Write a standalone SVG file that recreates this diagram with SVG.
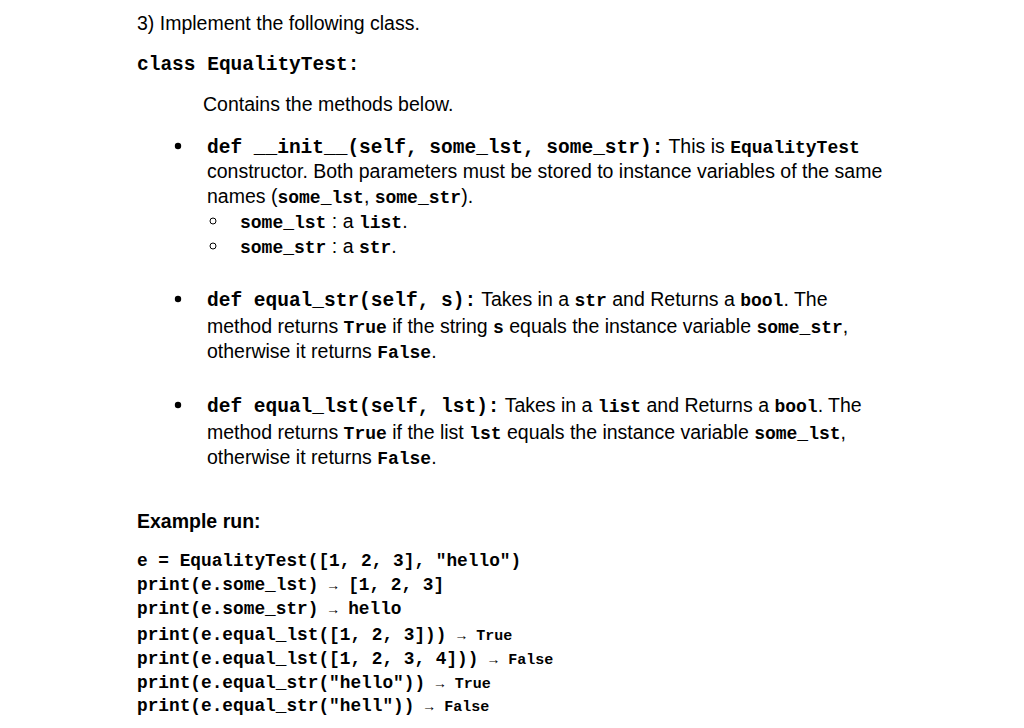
<svg xmlns="http://www.w3.org/2000/svg" width="1024" height="728" viewBox="0 0 1024 728">
<style>
text{font-family:"Liberation Sans",Arial,sans-serif;font-size:19.5px;fill:#000}
.m{font-family:"Liberation Mono","Courier New",monospace;font-weight:bold;font-size:19.5px}
.i{font-family:"Liberation Mono","Courier New",monospace;font-weight:bold;font-size:18px}
.c{font-family:"Liberation Mono","Courier New",monospace;font-weight:bold;font-size:17.8px}
.a{font-size:14px}
.b{font-weight:bold}
</style>
<rect width="1024" height="728" fill="#fff"/>
<g id="header">
<text x="137" y="30">3) Implement the following class.</text>
<text x="137" y="70" class="m">class EqualityTest:</text>
<text x="203" y="111">Contains the methods below.</text>
</g>
<g id="bullets">
<circle cx="178" cy="146" r="3.2"/>
<circle cx="178" cy="299" r="3.2"/>
<circle cx="178" cy="405" r="3.2"/>
<circle cx="213" cy="221" r="3" fill="none" stroke="#000" stroke-width="1"/>
<circle cx="213" cy="246" r="3" fill="none" stroke="#000" stroke-width="1"/>
</g>
<g id="init">
<text x="207" y="153"><tspan class="m">def __init__(self, some_lst, some_str):</tspan> This is <tspan class="i">EqualityTest</tspan></text>
<text x="207" y="178">constructor. Both parameters must be stored to instance variables of the same</text>
<text x="207" y="203">names (<tspan class="i">some_lst</tspan>, <tspan class="i">some_str</tspan>).</text>
<text x="240" y="228"><tspan class="i">some_lst</tspan> : a <tspan class="i">list</tspan>.</text>
<text x="240" y="253"><tspan class="i">some_str</tspan> : a <tspan class="i">str</tspan>.</text>
</g>
<g id="equal_str">
<text x="207" y="306"><tspan class="m">def equal_str(self, s):</tspan> Takes in a <tspan class="i">str</tspan> and Returns a <tspan class="i">bool</tspan>. The</text>
<text x="207" y="333">method returns <tspan class="i">True</tspan> if the string <tspan class="i">s</tspan> equals the instance variable <tspan class="i">some_str</tspan>,</text>
<text x="207" y="358">otherwise it returns <tspan class="i">False</tspan>.</text>
</g>
<g id="equal_lst">
<text x="207" y="412"><tspan class="m">def equal_lst(self, lst):</tspan> Takes in a <tspan class="i">list</tspan> and Returns a <tspan class="i">bool</tspan>. The</text>
<text x="207" y="439">method returns <tspan class="i">True</tspan> if the list <tspan class="i">lst</tspan> equals the instance variable <tspan class="i">some_lst</tspan>,</text>
<text x="207" y="464">otherwise it returns <tspan class="i">False</tspan>.</text>
</g>
<g id="example">
<text x="137" y="528" class="b">Example run:</text>
<text x="137" y="566" class="c">e = EqualityTest([1, 2, 3], "hello")</text>
<text x="137" y="590" class="c">print(e.some_lst) <tspan class="a">→</tspan> [1, 2, 3]</text>
<text x="137" y="614" class="c">print(e.some_str) <tspan class="a">→</tspan> hello</text>
<text x="137" y="640" class="c">print(e.equal_lst([1, 2, 3])) <tspan class="a">→</tspan> <tspan style="font-size:15px">True</tspan></text>
<text x="137" y="664" class="c">print(e.equal_lst([1, 2, 3, 4])) <tspan class="a">→</tspan> <tspan style="font-size:15px">False</tspan></text>
<text x="137" y="688" class="c">print(e.equal_str("hello")) <tspan class="a">→</tspan> <tspan style="font-size:15px">True</tspan></text>
<text x="137" y="711" class="c">print(e.equal_str("hell")) <tspan class="a">→</tspan> <tspan style="font-size:15px">False</tspan></text>
</g>
</svg>
